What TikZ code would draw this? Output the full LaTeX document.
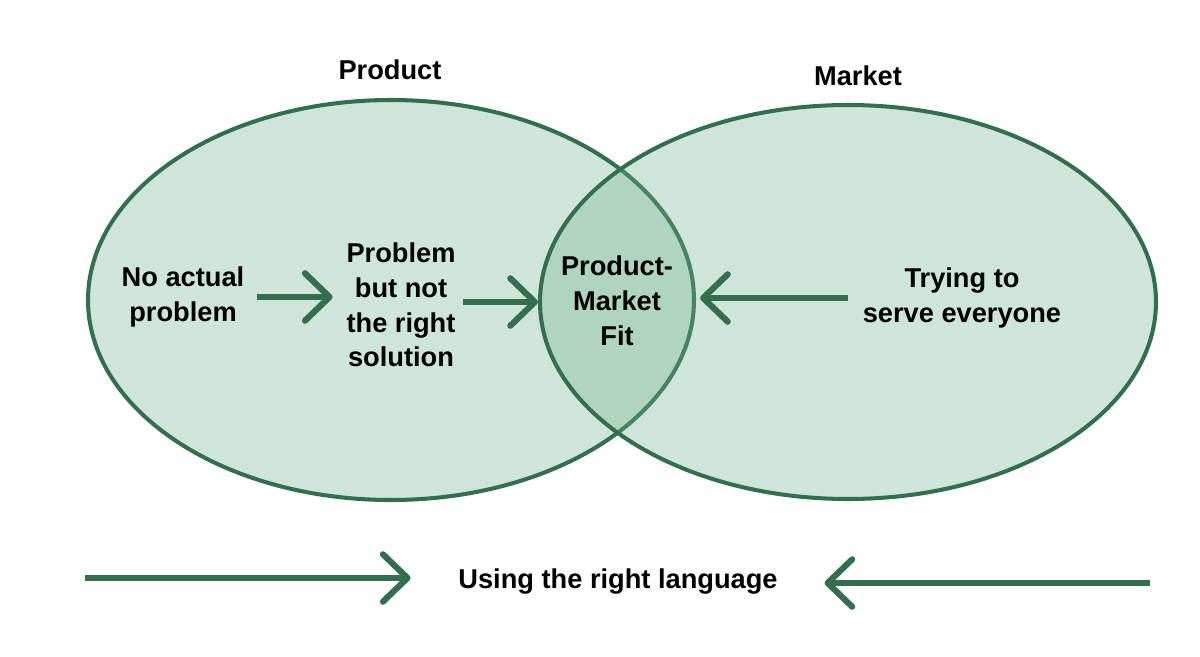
\documentclass[tikz,border=0pt]{standalone}
\usepackage{fontspec}
\setmainfont{Liberation Sans}
\usetikzlibrary{arrows.meta,shapes.geometric}

\definecolor{pmfgreen}{RGB}{51,110,79}
\definecolor{pmffill}{RGB}{109,176,140}

\tikzset{
  circ/.style={ellipse, draw=pmfgreen, line width=2.3pt, fill=pmffill,
    fill opacity=0.33, inner sep=0pt},
  lbl/.style={font=\fontsize{15.5}{19.8}\selectfont\bfseries, align=center, inner sep=0pt},
  push/.style={draw=pmfgreen, line width=3.5pt,
    -{Straight Barb[length=14pt, width=27pt, round]}},
}

\begin{document}
\begin{tikzpicture}[x=0.02cm, y=-0.02cm]
    \useasboundingbox (0,0) rectangle (1200,656);

    % 两个椭圆
    \node[circ, minimum width=606*0.02cm, minimum height=400*0.02cm] (product) at (391,300) {};
    \node[circ, minimum width=616*0.02cm, minimum height=394*0.02cm] (market) at (848,302) {};

    % 标题
    \node[lbl] (ptitle) at (390,70) {Product};
    \node[lbl] (mtitle) at (858,76) {Market};

    % 椭圆内文字
    \node[lbl] (noprob) at (183,297) {No actual\\problem};
    \node[lbl] (partial) at (401,305) {Problem\\but not\\the right\\solution};
    \node[lbl] (pmf) at (617,301) {Product-\\Market\\Fit};
    \node[lbl] (trying) at (962,298) {Trying to\\serve everyone};

    % 箭头
    \draw[push, shorten <=7pt, shorten >=7.7pt] (noprob.east) -- (partial.west |- noprob.east);
    \draw[push, shorten <=4.3pt] (partial.east |- market.west) -- (market.west);
    \draw[push, shorten <=8.2pt, shorten >=2.3pt] (trying.west) -- (product.east |- trying.west);

    % 底部
    \node[lbl] (lang) at (618,582) {Using the right language};
    \coordinate (lfar) at (85,578);
    \coordinate (rfar) at (1150,583);
    \draw[push, shorten >=27pt] (lfar) -- (lfar -| lang.west);
    \draw[push, shorten >=26.5pt] (rfar) -- (rfar -| lang.east);
\end{tikzpicture}
\end{document}
